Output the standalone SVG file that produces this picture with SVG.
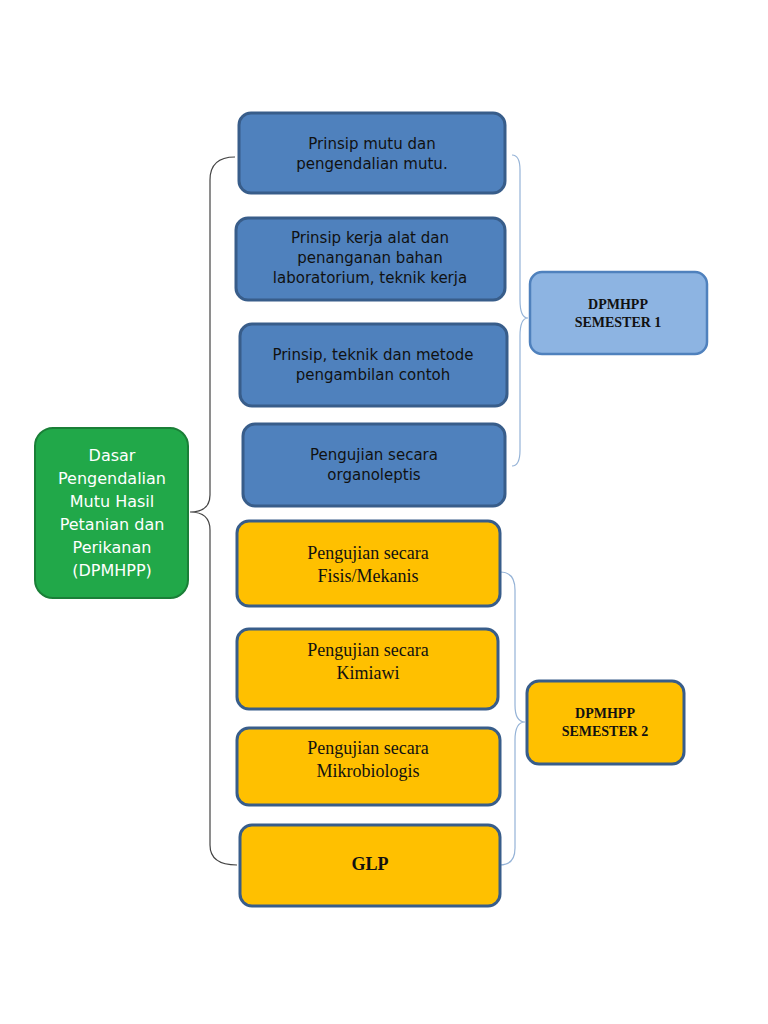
<svg xmlns="http://www.w3.org/2000/svg" width="768" height="1024" viewBox="0 0 768 1024">
<style>
.blue{fill:#4f81bd;stroke:#385d8a;stroke-width:3}
.yel{fill:#ffc000;stroke:#385d8a;stroke-width:3}
.bt{font-family:"DejaVu Sans",sans-serif;font-size:15px;fill:#111;text-anchor:middle}
.yt{font-family:"Liberation Serif",serif;font-size:18px;fill:#111;text-anchor:middle}
.st{font-family:"Liberation Serif",serif;font-size:14px;font-weight:bold;fill:#111;text-anchor:middle}
.gt{font-family:"DejaVu Sans",sans-serif;font-size:16px;fill:#fff;text-anchor:middle}
.br{fill:none;stroke:#444;stroke-width:1.2}
.br2{fill:none;stroke:#95b3d7;stroke-width:1.2}
</style>
<rect width="768" height="1024" fill="#fff"/>
<g id="connectors">
<path class="br" d="M235,157 Q210,157 210,180 L210,495 Q210,512 190,512 Q210,512 210,530 L210,845 Q210,865 237,865"/>
<path class="br2" d="M512,155 Q520,155 520,170 L520,300 Q520,318 528,318 Q520,318 520,336 L520,450 Q520,466 512,466"/>
<path class="br2" d="M500,572 Q515,572 515,590 L515,705 Q515,722 525,722 Q515,722 515,740 L515,848 Q515,865 500,865"/>
</g>
<g id="root"><rect x="35" y="428" width="153" height="170" rx="18" fill="#21a849" stroke="#1a7f37" stroke-width="2"/>
<text class="gt"><tspan x="112" y="461">Dasar</tspan><tspan x="112" y="484">Pengendalian</tspan><tspan x="112" y="507">Mutu Hasil</tspan><tspan x="112" y="530">Petanian dan</tspan><tspan x="112" y="553">Perikanan</tspan><tspan x="112" y="576">(DPMHPP)</tspan></text></g>
<g id="b1"><rect class="blue" x="239" y="113" width="266" height="80" rx="12"/><text class="bt"><tspan x="372" y="149">Prinsip  mutu dan</tspan><tspan x="372" y="169">pengendalian  mutu.</tspan></text></g>
<g id="b2"><rect class="blue" x="236" y="218" width="269" height="82" rx="12"/><text class="bt"><tspan x="370" y="243">Prinsip  kerja alat dan</tspan><tspan x="370" y="263">penanganan  bahan</tspan><tspan x="370" y="283">laboratorium, teknik kerja</tspan></text></g>
<g id="b3"><rect class="blue" x="240" y="324" width="267" height="82" rx="12"/><text class="bt"><tspan x="373" y="360">Prinsip,  teknik dan metode</tspan><tspan x="373" y="380">pengambilan  contoh</tspan></text></g>
<g id="b4"><rect class="blue" x="243" y="424" width="262" height="82" rx="12"/><text class="bt"><tspan x="374" y="460">Pengujian  secara</tspan><tspan x="374" y="480">organoleptis</tspan></text></g>
<g id="s1"><rect x="530" y="272" width="177" height="82" rx="12" fill="#8db4e2" stroke="#4f81bd" stroke-width="2.5"/><text class="st"><tspan x="618" y="309">DPMHPP</tspan><tspan x="618" y="327">SEMESTER  1</tspan></text></g>
<g id="y1"><rect class="yel" x="237" y="521" width="263" height="85" rx="12"/><text class="yt"><tspan x="368" y="559">Pengujian secara</tspan><tspan x="368" y="582">Fisis/Mekanis</tspan></text></g>
<g id="y2"><rect class="yel" x="237" y="629" width="261" height="80" rx="12"/><text class="yt"><tspan x="368" y="656">Pengujian secara</tspan><tspan x="368" y="679">Kimiawi</tspan></text></g>
<g id="y3"><rect class="yel" x="237" y="728" width="263" height="77" rx="12"/><text class="yt"><tspan x="368" y="754">Pengujian secara</tspan><tspan x="368" y="777">Mikrobiologis</tspan></text></g>
<g id="y4"><rect class="yel" x="240" y="825" width="260" height="81" rx="12"/><text class="yt" font-weight="bold" x="370" y="870">GLP</text></g>
<g id="s2"><rect class="yel" x="527" y="681" width="157" height="83" rx="12" stroke-width="2.5"/><text class="st"><tspan x="605" y="718">DPMHPP</tspan><tspan x="605" y="736">SEMESTER  2</tspan></text></g>
</svg>
